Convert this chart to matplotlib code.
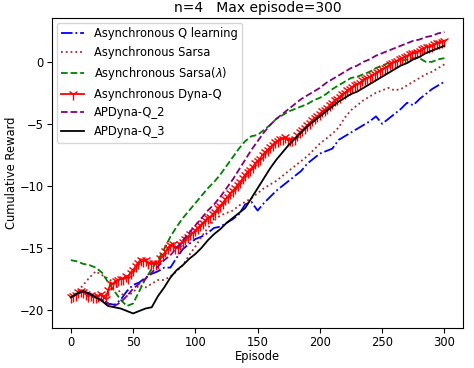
import numpy as np
import matplotlib
matplotlib.use("Agg")
import matplotlib.pyplot as plt

#### Datos

# cada 5 episodios
episodes = list(range(0, 301, 5))

q_learning = [-19.0, -18.7, -18.5, -18.8, -19.0, -19.2, -19.5, -19.6, -19.2, -18.5,
              -18.0, -17.8, -17.4, -17.1, -16.9, -16.6, -16.6, -15.8, -15.1, -14.7,
              -14.3, -14.1, -13.8, -13.4, -13.3, -13.0, -12.7, -12.3, -11.5, -11.3,
              -12.0, -11.4, -10.9, -10.4, -10.0, -9.6, -9.2, -8.8, -8.2, -7.8,
              -7.4, -7.2, -7.0, -6.3, -6.0, -5.7, -5.4, -5.1, -4.8, -4.4,
              -5.0, -4.6, -4.2, -3.8, -3.3, -3.5, -3.0, -2.6, -2.2, -1.9, -1.6]

sarsa = [-19.0, -18.6, -18.0, -17.4, -16.9, -17.2, -17.5, -17.8, -18.7, -18.9,
         -18.6, -18.0, -18.2, -17.9, -17.6, -17.6, -17.3, -16.9, -16.4, -15.6,
         -14.9, -14.1, -13.4, -12.8, -12.4, -12.2, -12.0, -11.6, -11.3, -11.0,
         -10.6, -10.2, -9.9, -9.6, -9.2, -8.8, -8.4, -8.0, -7.6, -7.1,
         -6.6, -6.2, -5.8, -5.3, -4.5, -3.9, -3.5, -3.1, -2.8, -2.5,
         -2.3, -2.1, -2.3, -2.2, -1.9, -1.6, -1.3, -1.0, -0.8, -0.5, -0.2]

sarsa_lambda = [-16.0, -16.1, -16.3, -16.4, -16.6, -17.0, -17.8, -18.5, -19.2, -19.7,
                -19.5, -18.5, -17.5, -16.7, -16.0, -15.1, -14.1, -13.3, -12.6, -12.0,
                -11.4, -10.8, -10.2, -9.7, -9.1, -8.4, -7.7, -7.0, -6.4, -6.0,
                -5.9, -5.5, -5.1, -4.6, -4.3, -4.0, -3.8, -3.6, -3.4, -3.1,
                -2.9, -2.6, -2.2, -1.9, -1.6, -1.3, -1.2, -1.0, -0.8, -0.5,
                -0.3, -0.1, 0.0, 0.1, 0.2, 0.3, 0.3, 0.0, 0.0, 0.2, 0.3]

apdyna_2 = [-19.0, -18.7, -18.5, -18.7, -19.0, -19.2, -19.5, -19.7, -19.4, -18.9,
            -18.3, -17.9, -17.5, -17.0, -16.5, -16.0, -15.6, -15.0, -14.4, -13.8,
            -13.2, -12.6, -12.0, -11.5, -10.9, -10.2, -9.5, -8.7, -7.9, -7.1,
            -6.4, -5.7, -5.1, -4.6, -4.2, -3.8, -3.4, -3.0, -2.7, -2.4,
            -2.1, -1.7, -1.4, -1.1, -0.8, -0.5, -0.3, 0.0, 0.2, 0.5,
            0.7, 0.9, 1.1, 1.3, 1.5, 1.7, 1.8, 2.0, 2.1, 2.3, 2.4]

apdyna_3 = [-19.0, -18.7, -18.5, -18.7, -19.0, -19.3, -19.7, -19.8, -19.9, -20.1,
            -20.3, -20.1, -19.9, -19.8, -18.9, -18.2, -17.4, -16.8, -16.4, -15.9,
            -15.5, -15.0, -14.4, -13.9, -13.5, -13.0, -12.6, -12.2, -11.8, -11.0,
            -10.2, -9.4, -8.6, -7.9, -7.3, -6.7, -6.2, -5.7, -5.2, -4.8,
            -4.4, -4.0, -3.6, -3.2, -2.9, -2.6, -2.4, -2.1, -1.8, -1.5,
            -1.2, -0.9, -0.6, -0.3, -0.1, 0.2, 0.4, 0.7, 0.9, 1.1, 1.3]

# Dyna-Q cada 2 episodios (marcadores densos)
episodes_dq = list(range(0, 301, 2))

dyna_q = [-19.0, -18.9, -18.8, -18.6, -18.5, -18.6, -18.7, -18.9, -18.8, -19.0,
          -19.0, -18.9, -18.7, -18.9, -19.1, -18.4, -17.9, -17.9, -17.7, -17.6,
          -17.5, -17.5, -17.3, -17.4, -17.0, -16.8, -16.5, -16.2, -16.0, -16.1,
          -16.0, -16.2, -16.3, -16.2, -16.3, -16.2, -15.8, -15.6, -15.3, -15.0,
          -14.8, -14.7, -15.0, -15.0, -14.7, -14.5, -14.3, -14.1, -13.9, -13.8,
          -13.6, -13.4, -13.2, -13.0, -12.8, -12.6, -12.5, -12.3, -12.1, -11.8,
          -11.6, -11.4, -11.1, -10.9, -10.6, -10.4, -10.2, -9.9, -9.7, -9.4,
          -9.1, -8.9, -8.7, -8.5, -8.2, -8.0, -7.8, -7.5, -7.3, -7.1,
          -6.9, -6.7, -6.5, -6.4, -6.2, -6.2, -6.1, -6.3, -6.3, -6.3,
          -6.2, -5.9, -5.7, -5.5, -5.3, -5.1, -4.9, -4.7, -4.5, -4.4,
          -4.2, -4.0, -3.9, -3.7, -3.5, -3.3, -3.1, -3.0, -2.8, -2.6,
          -2.5, -2.3, -2.2, -2.0, -1.9, -1.8, -1.7, -1.5, -1.4, -1.3,
          -1.2, -1.1, -1.0, -0.8, -0.7, -0.6, -0.5, -0.4, -0.2, -0.1,
          0.0, 0.1, 0.2, 0.3, 0.4, 0.5, 0.6, 0.7, 0.7, 0.8,
          0.9, 1.0, 1.1, 1.2, 1.2, 1.3, 1.4, 1.5, 1.5, 1.6, 1.7]

#### Figura

fs = 8.3
fig = plt.figure(figsize=(4.74, 3.68), dpi=100)
ax = fig.add_axes([0.11, 0.11, 0.867, 0.841])

ax.plot(episodes, q_learning, color="blue", linestyle="-.", linewidth=1.3, label="Asynchronous Q learning")
ax.plot(episodes, sarsa, color="brown", linestyle=":", linewidth=1.3, label="Asynchronous Sarsa")
ax.plot(episodes, sarsa_lambda, color="green", linestyle="--", linewidth=1.3, label=r"Asynchronous Sarsa($\lambda$)")
ax.plot(episodes_dq, dyna_q, color="red", linestyle="-", linewidth=1.3, marker="1",
        markersize=8, markeredgewidth=1.0, label="Asynchronous Dyna-Q")
ax.plot(episodes, apdyna_2, color="purple", linestyle="--", linewidth=1.3, label="APDyna-Q_2")
ax.plot(episodes, apdyna_3, color="black", linestyle="-", linewidth=1.3, label="APDyna-Q_3")

ax.set_xticks([0, 50, 100, 150, 200, 250, 300])
ax.set_yticks([-20, -15, -10, -5, 0])
ax.tick_params(labelsize=fs, pad=2.5)
ax.set_xlabel("Episode", fontsize=fs, labelpad=1)
ax.set_ylabel("Cumulative Reward", fontsize=fs, labelpad=1)
ax.set_title("n=4   Max episode=300", fontsize=10, pad=4)
ax.legend(loc="upper left", fontsize=fs, borderaxespad=0.4)

fig.savefig("out.png", dpi=100)
